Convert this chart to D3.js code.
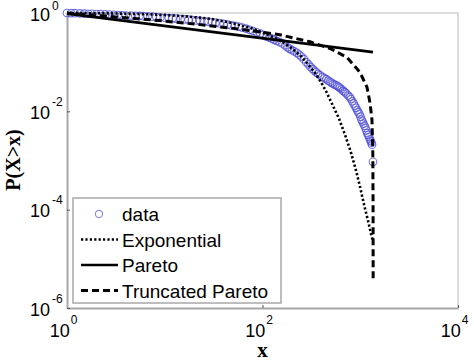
<!DOCTYPE html>
<html>
<head>
<meta charset="utf-8">
<script src="https://cdn.jsdelivr.net/npm/d3@7"></script>
<style>
  body { margin: 0; background: #fff; }
  text { font-family: "Liberation Sans", Arial, sans-serif; }
</style>
</head>
<body>
<div id="wrapper"></div>
<script>
// values, [x, P(X>x)]
const dataPoints = [
  [1, 1.0], [1.1, 0.995], [1.2, 0.99], [1.35, 0.98], [1.5, 0.97], [1.65, 0.965], [1.8, 0.96], [2, 0.955],
  [2.2, 0.95], [2.45, 0.94], [2.7, 0.93], [3, 0.92], [3.3, 0.91], [3.65, 0.90], [4, 0.89], [4.5, 0.885],
  [5, 0.88], [5.5, 0.87], [6, 0.86], [6.7, 0.85], [7.5, 0.84], [8.2, 0.825], [9, 0.81], [10, 0.80],
  [11, 0.79], [12, 0.78], [13, 0.77], [14.5, 0.755], [16, 0.74], [17.5, 0.73], [19, 0.72], [21, 0.705],
  [23, 0.69], [25.5, 0.675], [28, 0.66], [30.5, 0.645], [33, 0.63], [36.5, 0.615], [40, 0.60], [44, 0.58],
  [48, 0.56], [52, 0.545], [57, 0.53], [62, 0.505], [68, 0.48], [74, 0.455], [80, 0.43], [87, 0.405],
  [95, 0.38], [102, 0.355], [110, 0.33], [117, 0.315], [125, 0.30], [132, 0.285], [140, 0.27], [150, 0.255],
  [160, 0.24], [170, 0.22], [180, 0.20], [190, 0.187], [200, 0.175], [212, 0.165], [225, 0.155], [237, 0.142],
  [250, 0.13], [265, 0.115], [280, 0.10], [295, 0.09], [310, 0.08], [325, 0.073], [340, 0.067], [355, 0.062],
  [370, 0.058], [390, 0.054], [410, 0.050], [430, 0.047], [450, 0.045], [470, 0.042], [490, 0.040], [510, 0.038],
  [530, 0.036], [555, 0.0345], [580, 0.033], [600, 0.0315], [620, 0.030], [645, 0.028], [670, 0.026], [695, 0.0245],
  [720, 0.023], [750, 0.021], [780, 0.0196], [805, 0.0178], [830, 0.016], [855, 0.0145], [880, 0.013], [905, 0.0118],
  [930, 0.0105], [955, 0.0096], [980, 0.0088], [1005, 0.0078], [1030, 0.0068], [1055, 0.0062], [1080, 0.0056], [1105, 0.0051],
  [1130, 0.0046], [1155, 0.0041], [1180, 0.0036], [1205, 0.0033], [1230, 0.003], [1255, 0.0027], [1280, 0.0025], [1300, 0.0023],
  [1320, 0.0021], [1350, 0.00094]
]

const expPoints = [
  [1, 1.0], [3, 0.98], [7, 0.94], [15, 0.87], [30, 0.76], [46, 0.64], [75, 0.50], [110, 0.37], [151, 0.28],
  [200, 0.19], [250, 0.13], [300, 0.085], [350, 0.058], [400, 0.038], [450, 0.025], [500, 0.016], [600, 0.0075],
  [700, 0.0033], [800, 0.0015], [900, 0.00065], [1000, 0.00028], [1100, 0.00012], [1200, 6e-5], [1300, 3e-5], [1340, 2.4e-5]
]

const paretoPoints = [[1, 0.97], [1350, 0.16]]

const truncPoints = [
  [1, 1.0], [2.75, 0.85], [8.9, 0.70], [23, 0.58], [59, 0.47], [151, 0.36], [306, 0.26], [490, 0.19],
  [732, 0.125], [994, 0.062], [1172, 0.031], [1259, 0.0148], [1318, 0.0067], [1345, 0.0014], [1352, 0.00015], [1355, 4e-6]
]

const xTicks = [1, 100, 10000]
const xTickExp = ["0", "2", "4"]
const yTicks = [1, 1e-2, 1e-4, 1e-6]
const yTickExp = ["0", "-2", "-4", "-6"]

const legendLabels = ["data", "Exponential", "Pareto", "Truncated Pareto"]

const dimensions = {
  width: 474,
  height: 363,
  margin: { top: 13, right: 16, bottom: 55, left: 67 },
}
dimensions.boundedWidth = dimensions.width - dimensions.margin.left - dimensions.margin.right
dimensions.boundedHeight = dimensions.height - dimensions.margin.top - dimensions.margin.bottom

const xScale = d3.scaleLog().domain([1, 1e4]).range([0, dimensions.boundedWidth])
const yScale = d3.scaleLog().domain([1e-6, 1]).range([dimensions.boundedHeight, 0])

const svg = d3.select("#wrapper").append("svg")
  .attr("width", dimensions.width)
  .attr("height", dimensions.height)

const bounds = svg.append("g")
  .attr("transform", `translate(${dimensions.margin.left},${dimensions.margin.top})`)

// top / right frame
bounds.append("path")
  .attr("d", `M0,0H${dimensions.boundedWidth}V${dimensions.boundedHeight}`)
  .attr("fill", "none")
  .attr("stroke", "#cfcfcf")
  .attr("stroke-width", 1.5)

// axes
const xAxis = bounds.append("g")
  .attr("transform", `translate(0,${dimensions.boundedHeight})`)
  .call(d3.axisBottom(xScale).tickValues(xTicks).tickSizeInner(-3).tickSizeOuter(0).tickFormat(""))
const yAxis = bounds.append("g")
  .call(d3.axisLeft(yScale).tickValues(yTicks).tickSizeInner(-3).tickSizeOuter(0).tickFormat(""))

;[xAxis, yAxis].forEach(ax => {
  ax.select(".domain").attr("stroke", "#a8a8a8").attr("stroke-width", 2)
  ax.selectAll(".tick line").attr("stroke", "#555")
})

xAxis.selectAll(".tick").each(function(d, i) {
  const t = d3.select(this).append("text")
    .attr("y", 29).attr("x", -4)
    .attr("text-anchor", "middle")
    .attr("fill", "#000")
    .style("font-size", "18px")
  t.append("tspan").text("10")
  t.append("tspan").attr("dy", -13).attr("dx", 1).style("font-size", "12px").text(xTickExp[i])
})

// y labels: "10" with exponent raised
yAxis.selectAll(".tick").each(function(d, i) {
  const t = d3.select(this).append("text")
    .attr("x", -37).attr("y", 7)
    .attr("text-anchor", "start")
    .attr("fill", "#000")
    .style("font-size", "18px")
  t.append("tspan").text("10")
  t.append("tspan").attr("dy", i === 0 ? -11 : -13).attr("dx", 2).style("font-size", "12px").text(yTickExp[i])
})

// axis labels
svg.append("text")
  .attr("transform", `translate(20,160) rotate(-90)`)
  .attr("text-anchor", "middle")
  .style("font-family", "'Liberation Serif', 'Times New Roman', serif")
  .style("font-weight", "bold")
  .style("font-size", "20px")
  .text("P(X>x)")

svg.append("text")
  .attr("x", dimensions.margin.left + xScale(100))
  .attr("y", 357)
  .attr("text-anchor", "middle")
  .style("font-family", "'Liberation Serif', 'Times New Roman', serif")
  .style("font-weight", "bold")
  .style("font-size", "21px")
  .text("x")

// marks
const line = d3.line().x(d => xScale(d[0])).y(d => yScale(d[1]))

bounds.append("g")
  .selectAll("circle")
  .data(dataPoints)
  .join("circle")
    .attr("cx", d => xScale(d[0]))
    .attr("cy", d => yScale(d[1]))
    .attr("r", 3.8)
    .attr("fill", "none")
    .attr("stroke", "#4646d6")
    .attr("stroke-width", 1.1)
    .attr("stroke-opacity", 0.75)

bounds.append("path")
  .datum(expPoints)
  .attr("d", line)
  .attr("fill", "none")
  .attr("stroke", "#000")
  .attr("stroke-width", 2.6)
  .attr("stroke-dasharray", "2.2,2.2")

bounds.append("path")
  .datum(paretoPoints)
  .attr("d", line)
  .attr("fill", "none")
  .attr("stroke", "#000")
  .attr("stroke-width", 2.6)

bounds.append("path")
  .datum(truncPoints)
  .attr("d", line)
  .attr("fill", "none")
  .attr("stroke", "#000")
  .attr("stroke-width", 3)
  .attr("stroke-dasharray", "7,4")

// legend
const legend = svg.append("g").attr("transform", "translate(73,198)")
legend.append("rect")
  .attr("width", 208).attr("height", 105)
  .attr("fill", "#fff")
  .attr("stroke", "#a8a8a8")
  .attr("stroke-width", 1.5)

const rows = legend.selectAll("g.row")
  .data(legendLabels)
  .join("g")
    .attr("class", "row")
    .attr("transform", (d, i) => `translate(0,${16 + i * 25.5})`)

rows.append("text")
  .attr("x", 49).attr("y", 7)
  .style("font-size", "19px")
  .attr("fill", "#000")
  .text(d => d)

rows.filter((d, i) => i === 0).append("circle")
  .attr("cx", 26).attr("r", 3.6)
  .attr("fill", "none").attr("stroke", "#9090e0").attr("stroke-width", 1.2)

const dashes = [null, "2.2,2.2", null, "7,4"]
rows.filter((d, i) => i > 0).append("line")
  .attr("x1", 8).attr("x2", 45)
  .attr("stroke", "#000")
  .attr("stroke-width", (d, i) => i === 2 ? 3 : 2.6)
  .attr("stroke-dasharray", d => dashes[legendLabels.indexOf(d)])
</script>
</body>
</html>
